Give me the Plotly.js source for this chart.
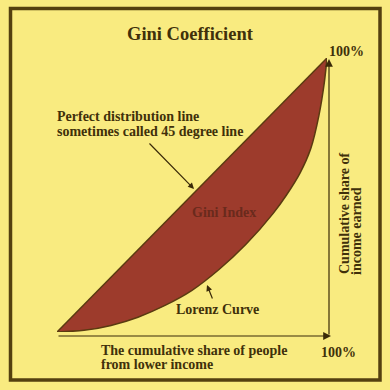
<!DOCTYPE html>
<html>
<head>
<meta charset="utf-8">
<script src="https://cdn.plot.ly/plotly-3.0.1.min.js"></script>
<style>html,body{margin:0;padding:0;background:#F9EB80;}#chart{width:390px;height:390px;}</style>
</head>
<body>
<div id="chart"></div>
<script>
// Data
var equalityX = [0, 1];
var equalityY = [0, 1];
var lorenzX = [0, 0.1, 0.2, 0.3, 0.4, 0.5, 0.6, 0.7, 0.8, 0.85, 0.9, 0.94, 0.97, 0.99, 1];
var lorenzY = [0, 0.006, 0.024, 0.054, 0.097, 0.152, 0.228, 0.32, 0.432, 0.5, 0.58, 0.67, 0.79, 0.91, 1];
var titleText = "Gini Coefficient";
var diagLabel = ["Perfect distribution line", "sometimes called 45 degree line"];
var areaLabel = "Gini Index";
var curveLabel = "Lorenz Curve";
var xLabel = ["The cumulative share of people", "from lower income"];
var yLabel = ["Cumulative share of", "income earned"];
var endLabel = "100%";

// Layout helpers (pixel -> paper)
var L = 57, T = 58, W = 270, H = 274;
function px(x) { return (x - L) / W; }
function py(y) { return (T + H - y) / H; }
var FONT = "Liberation Serif";
var TXT = "#40300A";
var BG = "#F9EB80";

function label(text, x, y, size, opts) {
  var a = {
    text: "<b>" + text + "</b>", xref: "paper", yref: "paper",
    x: px(x), y: py(y), showarrow: false,
    xanchor: "left", yanchor: "middle",
    font: {family: FONT, size: size, color: TXT}
  };
  for (var k in opts) a[k] = opts[k];
  return a;
}
function arrow(hx, hy, tx, ty, head, size) {
  return {
    text: "", xref: "paper", yref: "paper", x: px(hx), y: py(hy),
    ax: tx - hx, ay: ty - hy, showarrow: true,
    arrowhead: head, arrowsize: size, arrowwidth: 1.2, arrowcolor: "#3A2A08"
  };
}

var traces = [
  {x: equalityX, y: equalityY, mode: "lines", line: {color: "#5A3A10", width: 1.5}, hoverinfo: "skip"},
  {x: lorenzX, y: lorenzY, mode: "lines", line: {color: "#5A3A10", width: 1.5, shape: "spline", smoothing: 0.8},
   fill: "tonexty", fillcolor: "#9D3B2C", hoverinfo: "skip"}
];

var annotations = [
  label(titleText, 190, 34, 18.5, {xanchor: "center"}),
  label(endLabel, 346, 52, 14, {xanchor: "center"}),
  label(endLabel, 338, 352, 14, {xanchor: "center"}),
  label(diagLabel[0], 55, 116, 14),
  label(diagLabel[1], 55, 131, 14),
  label(areaLabel, 224, 212, 14, {xanchor: "center", font: {family: FONT, size: 14, color: "#6A2A1C"}}),
  label(curveLabel, 217, 309, 14, {xanchor: "center"}),
  label(xLabel[0], 99, 350, 14),
  label(xLabel[1], 99, 364, 14),
  label(yLabel[0], 344, 214, 14, {xanchor: "center", textangle: -90}),
  label(yLabel[1], 356, 231, 14, {xanchor: "center", textangle: -90}),
  arrow(194, 189, 148, 142, 2, 1),
  arrow(207, 285, 213, 300, 2, 1),
  arrow(331, 336, 57, 336, 2, 1.3),
  arrow(329, 59, 329, 336, 2, 1.3)
];

var layout = {
  width: 390, height: 390,
  paper_bgcolor: BG, plot_bgcolor: BG,
  margin: {l: L, r: 390 - L - W, t: T, b: 390 - T - H, pad: 0},
  showlegend: false,
  xaxis: {range: [0, 1], visible: false, fixedrange: true},
  yaxis: {range: [0, 1], visible: false, fixedrange: true},
  shapes: [{
    type: "rect", xref: "paper", yref: "paper",
    x0: px(10.5), x1: px(380), y0: py(380), y1: py(8.5),
    line: {color: "#54400F", width: 3.5}, fillcolor: "rgba(0,0,0,0)", layer: "below"
  }],
  annotations: annotations
};

Plotly.newPlot("chart", traces, layout, {displayModeBar: false, staticPlot: true});
</script>
</body>
</html>
